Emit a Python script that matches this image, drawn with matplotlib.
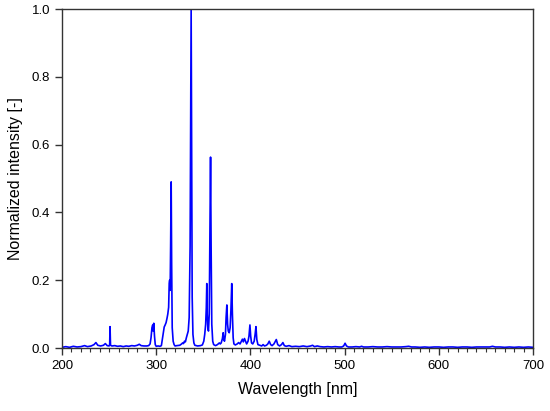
import matplotlib
matplotlib.use("Agg")
import matplotlib.pyplot as plt
from matplotlib.ticker import MultipleLocator

plt.rcParams['font.family'] = ['Liberation Sans', 'DejaVu Sans']

wavelength = [
    200, 204, 208, 212, 216, 220, 224, 227, 231, 234, 236, 238, 241, 244, 246, 248,
    250, 250.6, 251.0, 251.5, 253, 256, 259, 262, 265, 268, 271, 274, 277, 280, 282,
    284, 287, 290, 292, 293.5, 294.5, 295.5, 296.3, 296.8, 297.4, 298.2, 299, 300,
    302, 304, 305.5, 306.5, 307.5, 308.5, 309.5, 310.5, 311.5, 312.3, 313.2, 313.8,
    314.3, 314.8, 315.3, 315.9, 316.4, 317.0, 318, 319, 320, 322, 325, 327, 328, 329,
    330, 331, 332, 333, 334, 335, 336, 336.7, 337.1, 337.6, 338.2, 339, 340, 341,
    344, 347, 349, 350.5, 351.5, 352.5, 353.2, 353.7, 354.2, 354.8, 355.5, 356.3,
    357.0, 357.7, 358.3, 359, 360, 361, 363, 365, 367, 368, 369, 370.3, 371.1,
    371.8, 372.5, 373.5, 374.2, 375.0, 375.8, 376.5, 377.5, 378.5, 379.3, 380.2,
    380.9, 381.7, 382.5, 384, 386, 387.5, 389, 390.5, 391.5, 392.5, 393.7, 394.8,
    396, 397.5, 398.5, 399.5, 400.3, 401.2, 402.5, 404, 405, 405.9, 406.8, 408, 410,
    412, 413.5, 415, 417, 418.5, 420, 421.5, 423, 425, 426.5, 427.5, 429, 431, 433,
    434.5, 436, 438, 441, 444, 448, 452, 456, 460, 464, 466, 468, 471, 474, 478, 482,
    486, 490, 494, 497, 499, 500.5, 502, 504, 508, 512, 516, 518, 520, 525, 530, 535,
    540, 545, 550, 555, 560, 565, 568, 571, 575, 580, 585, 590, 595, 600, 605, 610,
    615, 620, 625, 630, 635, 640, 645, 650, 654, 657, 660, 665, 670, 675, 680, 685,
    690, 695, 700,
]
intensity = [
    0.002, 0.004, 0.002, 0.005, 0.003, 0.004, 0.007, 0.004, 0.006, 0.010, 0.016, 0.008, 0.006, 0.008, 0.013, 0.007,
    0.006, 0.010, 0.063, 0.008, 0.006, 0.007, 0.005, 0.006, 0.004, 0.006, 0.005, 0.007, 0.006, 0.008, 0.011,
    0.007, 0.006, 0.006, 0.007, 0.012, 0.030, 0.060, 0.068, 0.050, 0.073, 0.035, 0.010, 0.005,
    0.006, 0.005, 0.007, 0.025, 0.045, 0.062, 0.068, 0.075, 0.088, 0.100, 0.120, 0.190,
    0.200, 0.170, 0.300, 0.490, 0.250, 0.060, 0.020, 0.010, 0.006, 0.007, 0.008, 0.012, 0.015, 0.013,
    0.020, 0.018, 0.030, 0.040, 0.050, 0.090, 0.300, 0.750, 1.000, 0.600, 0.150, 0.040, 0.015, 0.008,
    0.006, 0.007, 0.009, 0.020, 0.040, 0.070, 0.120, 0.190, 0.100, 0.060, 0.050, 0.100,
    0.350, 0.563, 0.300, 0.070, 0.020, 0.010, 0.007, 0.010, 0.015, 0.012, 0.015, 0.028, 0.045,
    0.025, 0.020, 0.040, 0.090, 0.127, 0.070, 0.050, 0.045, 0.060, 0.110, 0.190,
    0.100, 0.030, 0.012, 0.009, 0.012, 0.016, 0.012, 0.020, 0.026, 0.018, 0.028, 0.020,
    0.012, 0.020, 0.035, 0.068, 0.035, 0.015, 0.012, 0.020, 0.040, 0.063, 0.025, 0.010, 0.008,
    0.006, 0.010, 0.006, 0.008, 0.012, 0.020, 0.010, 0.007, 0.012, 0.020, 0.025, 0.010, 0.006, 0.010,
    0.016, 0.007, 0.005, 0.007, 0.004, 0.005, 0.004, 0.006, 0.004, 0.006, 0.008, 0.004, 0.006, 0.004, 0.003, 0.004,
    0.003, 0.004, 0.003, 0.003, 0.006, 0.014, 0.006, 0.003, 0.003, 0.004, 0.003, 0.005, 0.003, 0.003, 0.004, 0.003,
    0.003, 0.004, 0.003, 0.003, 0.003, 0.004, 0.005, 0.003, 0.003, 0.002, 0.003, 0.002, 0.003, 0.003, 0.002, 0.003,
    0.003, 0.002, 0.003, 0.003, 0.002, 0.003, 0.003, 0.003, 0.003, 0.005, 0.003, 0.003, 0.002, 0.003, 0.002, 0.003,
    0.002, 0.003, 0.002,
]

x_ticks = [200, 300, 400, 500, 600, 700]
y_ticks = [0.0, 0.2, 0.4, 0.6, 0.8, 1.0]

fig = plt.figure(figsize=(5.5, 4.11), dpi=100)
ax = fig.add_axes([62/550, 1 - 348/411, (533-62)/550, (348-9)/411])
ax.plot(wavelength, intensity, color='#0000ff', lw=1.2)

ax.set_xlim(200, 700)
ax.set_ylim(0, 1.0)
ax.set_xticks(x_ticks)
ax.set_xticklabels([str(t) for t in x_ticks])
ax.set_yticks(y_ticks)
ax.set_yticklabels([f"{t:.1f}" for t in y_ticks])
ax.xaxis.set_minor_locator(MultipleLocator(10))
ax.tick_params(axis='both', which='major', direction='out', length=5, width=1, labelsize=9.5, colors='#333333', labelcolor='black')
ax.tick_params(axis='x', which='minor', direction='out', length=3, width=0.8, colors='#333333')
for s in ax.spines.values():
    s.set_color('#333333')
    s.set_linewidth(1.0)

ax.set_xlabel('Wavelength [nm]', fontsize=11.5, labelpad=7)
ax.set_ylabel('Normalized intensity [-]', fontsize=11.5, labelpad=6)

fig.savefig('out.png', dpi=100)
